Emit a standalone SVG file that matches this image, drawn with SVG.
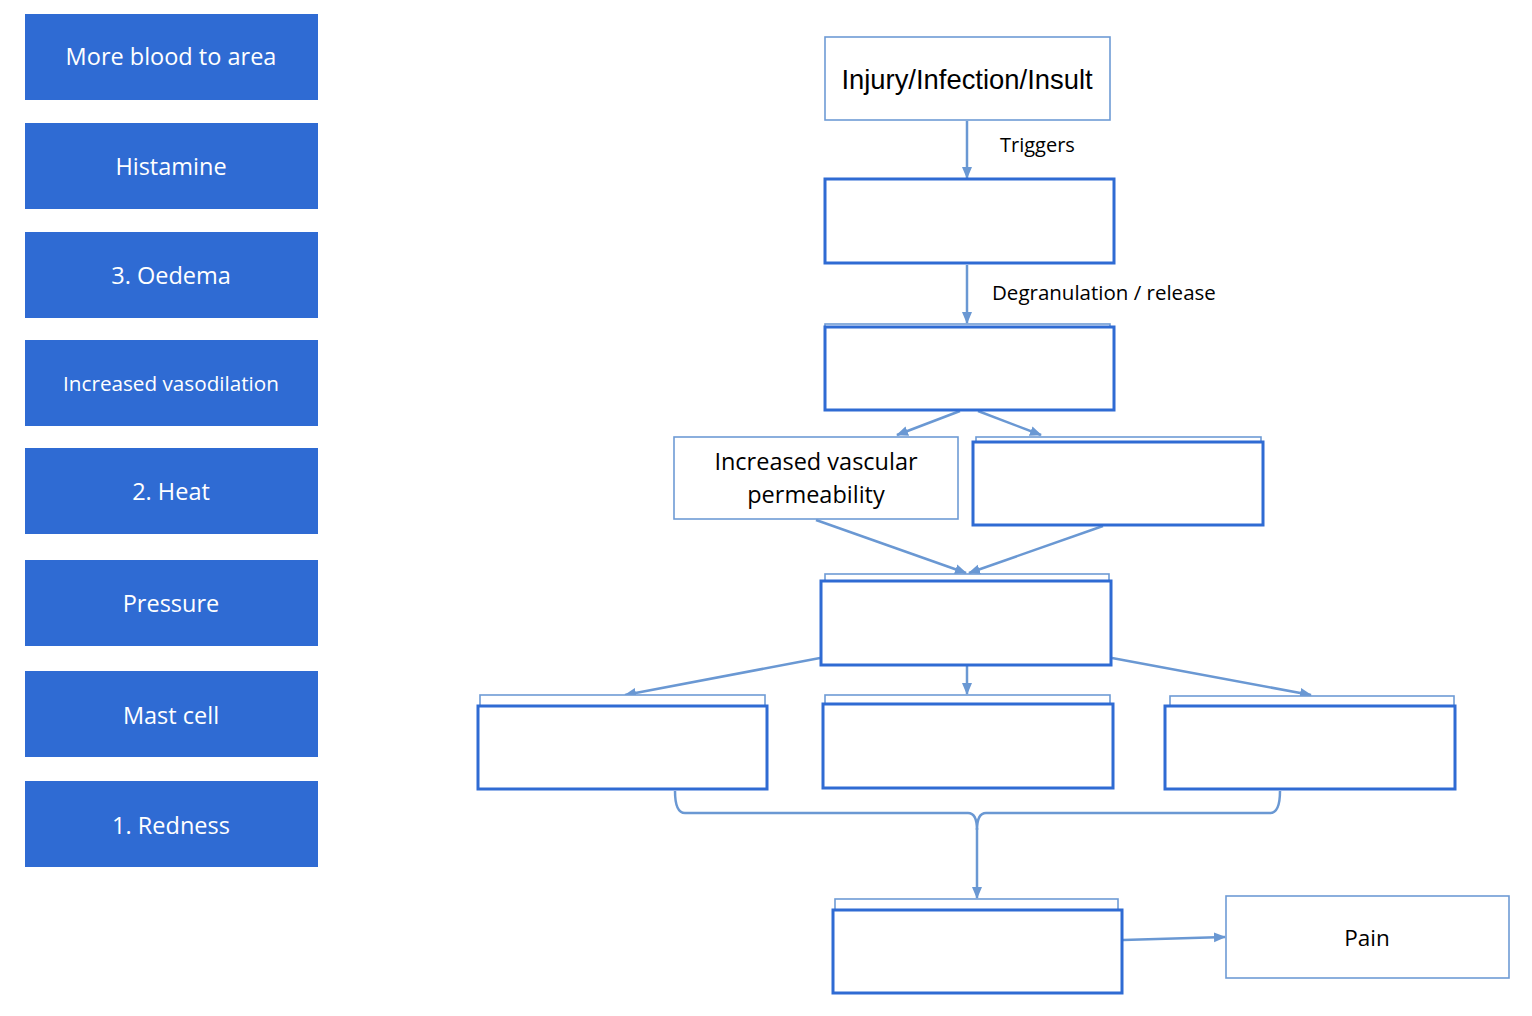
<svg xmlns="http://www.w3.org/2000/svg" width="1532" height="1016" viewBox="0 0 1532 1016">
<defs>
<marker id="ah" markerWidth="12" markerHeight="12" refX="11" refY="6" orient="auto" markerUnits="userSpaceOnUse">
<path d="M0,1 L12,6 L0,11 Z" fill="#6A98D3"/>
</marker>
</defs>
<style>
.tile{fill:#2F6BD3}
.tt{font-family:"Open Sans","Noto Sans",sans-serif;font-size:23.5px;fill:#fff;text-anchor:middle}
.lt{fill:#fff;stroke:#6E9BD5;stroke-width:1.6}
.dk{fill:#fff;stroke:#2F6BD3;stroke-width:3}
.c{fill:none;stroke:#6A98D3;stroke-width:2.5}
.lbl{font-family:"Open Sans","Noto Sans",sans-serif;font-size:20px;fill:#000}
.nt{font-family:"Open Sans","Noto Sans",sans-serif;font-size:23.5px;fill:#000;text-anchor:middle}
</style>
<rect width="1532" height="1016" fill="#fff"/>
<g id="tile-more-blood"><rect class="tile" x="25" y="14" width="293" height="86"/><text class="tt" x="171" y="65">More blood to area</text></g>
<g id="tile-histamine"><rect class="tile" x="25" y="123" width="293" height="86"/><text class="tt" x="171" y="175">Histamine</text></g>
<g id="tile-oedema"><rect class="tile" x="25" y="232" width="293" height="86"/><text class="tt" x="171" y="284">3. Oedema</text></g>
<g id="tile-vasodilation"><rect class="tile" x="25" y="340" width="293" height="86"/><text class="tt" x="171" y="391" style="font-size:20.7px">Increased vasodilation</text></g>
<g id="tile-heat"><rect class="tile" x="25" y="448" width="293" height="86"/><text class="tt" x="171" y="500">2. Heat</text></g>
<g id="tile-pressure"><rect class="tile" x="25" y="560" width="293" height="86"/><text class="tt" x="171" y="612">Pressure</text></g>
<g id="tile-mast-cell"><rect class="tile" x="25" y="671" width="293" height="86"/><text class="tt" x="171" y="724">Mast cell</text></g>
<g id="tile-redness"><rect class="tile" x="25" y="781" width="293" height="86"/><text class="tt" x="171" y="834">1. Redness</text></g>

<g id="connectors">
<line class="c" x1="967" y1="121" x2="967" y2="178" marker-end="url(#ah)"/>
<line class="c" x1="967" y1="265" x2="967" y2="323" marker-end="url(#ah)"/>
<line class="c" x1="960" y1="411" x2="897" y2="435" marker-end="url(#ah)"/>
<line class="c" x1="978" y1="411" x2="1041" y2="435" marker-end="url(#ah)"/>
<line class="c" x1="816" y1="520" x2="966" y2="573" marker-end="url(#ah)"/>
<line class="c" x1="1103" y1="526" x2="969" y2="573" marker-end="url(#ah)"/>
<line class="c" x1="820" y1="658" x2="625" y2="695" marker-end="url(#ah)"/>
<line class="c" x1="967" y1="666" x2="967" y2="694" marker-end="url(#ah)"/>
<line class="c" x1="1112" y1="658" x2="1311" y2="695" marker-end="url(#ah)"/>
<path class="c" d="M675,791 Q675,813 685,813 L968,813 Q977,813 977,830 Q977,813 986,813 L1270,813 Q1280,813 1280,791"/>
<line class="c" x1="977" y1="828" x2="977" y2="898" marker-end="url(#ah)"/>
<line class="c" x1="1123" y1="940" x2="1225" y2="937" marker-end="url(#ah)"/>
<text class="lbl" x="1000" y="152">Triggers</text>
<text class="lbl" x="992" y="300" style="font-size:20.5px">Degranulation / release</text>
</g>

<g id="n-injury"><rect class="lt" x="825" y="37" width="285" height="83"/><text x="967" y="89" style="font-family:'Liberation Sans',Arial,sans-serif;font-size:27.4px;fill:#000;text-anchor:middle">Injury/Infection/Insult</text></g>
<g id="n-blank1"><rect class="dk" x="825" y="179" width="289" height="84"/></g>
<g id="n-blank2"><rect class="lt" x="825" y="324" width="285" height="83"/><rect class="dk" x="825" y="327" width="289" height="83"/></g>
<g id="n-permeability"><rect class="lt" x="674" y="437" width="284" height="82"/><text class="nt" x="816" y="470">Increased vascular</text><text class="nt" x="816" y="503">permeability</text></g>
<g id="n-blank3"><rect class="lt" x="976" y="437" width="285" height="83"/><rect class="dk" x="973" y="442" width="290" height="83"/></g>
<g id="n-blank4"><rect class="lt" x="825" y="574" width="284" height="83"/><rect class="dk" x="821" y="581" width="290" height="84"/></g>
<g id="n-blank5"><rect class="lt" x="480" y="695" width="285" height="83"/><rect class="dk" x="478" y="706" width="289" height="83"/></g>
<g id="n-blank6"><rect class="lt" x="825" y="695" width="285" height="83"/><rect class="dk" x="823" y="704" width="290" height="84"/></g>
<g id="n-blank7"><rect class="lt" x="1170" y="696" width="284" height="83"/><rect class="dk" x="1165" y="706" width="290" height="83"/></g>
<g id="n-blank8"><rect class="lt" x="835" y="899" width="283" height="83"/><rect class="dk" x="833" y="910" width="289" height="83"/></g>
<g id="n-pain"><rect class="lt" x="1226" y="896" width="283" height="82"/><text class="nt" x="1367" y="946" style="font-size:22.5px">Pain</text></g>
</svg>
